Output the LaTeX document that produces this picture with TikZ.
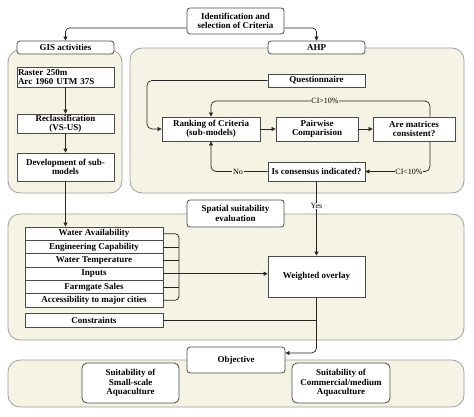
\documentclass[tikz,border=0pt]{standalone}
\usepackage{fontspec}
\setmainfont{Liberation Serif}
\usetikzlibrary{arrows.meta}
\definecolor{panel}{HTML}{F5F3E4}
\definecolor{edge}{HTML}{4A4A4A}
\begin{document}
\begin{tikzpicture}[x=1pt,y=-1pt,
  font=\bfseries\fontsize{9}{9.3}\selectfont,
  panelbox/.style={draw=gray!75, fill=panel, rounded corners=12pt, line width=0.8pt},
  head/.style={draw=edge, fill=white, rounded corners=3pt, line width=0.8pt, align=center, inner sep=0pt},
  box/.style={draw=edge, fill=white, line width=0.8pt, align=center, inner sep=0pt},
  conn/.style={draw=black!85, line width=0.7pt, -{Triangle[length=4pt,width=4pt]}},
  plain/.style={draw=black!85, line width=0.7pt},
  lbl/.style={font=\fontsize{8}{9}\selectfont, inner sep=0.8pt}]
\useasboundingbox[fill=white] (0,0) rectangle (474,417);

% panels
\path[panelbox] (8,50) rectangle (122,193);
\path[panelbox] (130,48) rectangle (464,193);
\path[panelbox] (8,214) rectangle (464,340);
\path[panelbox] (8,360) rectangle (464,407);

% header nodes
\node[head, minimum width=97pt, minimum height=26pt] (top) at (235.5,21) {Identification and\\selection of Criteria};
\node[head, minimum width=97pt, minimum height=13pt] (gis) at (65.5,47.5) {GIS activities};
\node[head, minimum width=97pt, minimum height=13pt] (ahp) at (316.5,47.5) {AHP};
\node[head, minimum width=97pt, minimum height=27pt] (spat) at (235.5,213.5) {Spatial suitability\\evaluation};
\node[head, minimum width=98pt, minimum height=26pt] (obj) at (236,360) {Objective};

% GIS column
\node[box, minimum width=97pt, minimum height=20pt, text width=95pt, align=left] (rast) at (65.5,77) {Raster 250m\\Arc 1960 UTM 37S};
\node[box, minimum width=97pt, minimum height=19pt] (recl) at (65.5,123.5) {Reclassification\\(VS-US)};
\node[box, minimum width=97pt, minimum height=28pt] (dev) at (65.5,167) {Development of sub-\\models};

% AHP
\node[box, minimum width=97pt, minimum height=13pt] (quest) at (316.5,80.5) {Questionnaire};
\node[box, minimum width=98pt, minimum height=24pt] (rank) at (211,129) {Ranking of Criteria\\(sub-models)};
\node[box, minimum width=82pt, minimum height=24pt] (pair) at (317,129) {Pairwise\\Comparision};
\node[box, minimum width=82pt, minimum height=24pt] (mat) at (414,129) {Are matrices\\consistent?};
\node[box, minimum width=97pt, minimum height=19pt] (cons) at (316.5,171.5) {Is consensus indicated?};

% criteria
\node[box, minimum width=138pt, minimum height=13.33pt] (r1) at (94,233.67) {Water Availability};
\node[box, minimum width=138pt, minimum height=13.33pt] (r2) at (94,247) {Engineering Capability};
\node[box, minimum width=138pt, minimum height=13.33pt] (r3) at (94,260.33) {Water Temperature};
\node[box, minimum width=138pt, minimum height=13.33pt] (r4) at (94,273.67) {Inputs};
\node[box, minimum width=138pt, minimum height=13.33pt] (r5) at (94,287) {Farmgate Sales};
\node[box, minimum width=138pt, minimum height=13.33pt] (r6) at (94,300.33) {Accessibility to major cities};
\node[box, minimum width=138pt, minimum height=14pt] (constr) at (94,320) {Constraints};
\node[box, minimum width=97pt, minimum height=41pt] (wo) at (316.5,276.5) {Weighted overlay};

% objective
\node[head, rounded corners=5pt, minimum width=97pt, minimum height=40pt] (small) at (130.5,383) {Suitability of\\Small-scale\\Aquaculture};
\node[head, rounded corners=5pt, minimum width=98pt, minimum height=40pt] (comm) at (341,383) {Suitability of\\Commercial/medium\\Aquaculture};

% connectors
\draw[conn, rounded corners=4pt] ([yshift=-7pt]top.west) -| (gis.north);
\draw[conn, rounded corners=4pt] ([yshift=-7pt]top.east) -| (ahp.north);
\draw[conn] (rast.south) -- (recl.north);
\draw[conn] (recl.south) -- (dev.north);
\draw[conn] (dev.south) -- (dev.south |- r1.north);

\draw[conn, rounded corners=5pt] (quest.west) -| (147,129) -- (rank.west);
\draw[conn] (rank.east) -- (pair.west);
\draw[conn] (pair.east) -- (mat.west);
\draw[conn, rounded corners=5pt] ([xshift=16pt]mat.north) |- (211,101) -- (rank.north);
\node[lbl, fill=panel] (ci1) at (325,101) {CI>10\%};
\draw[conn, rounded corners=5pt] ([xshift=16pt]mat.south) |- (cons.east);
\node[lbl, fill=panel] (ci2) at (409,171.5) {CI<10\%};
\draw[conn, rounded corners=5pt] (cons.west) -| (rank.south);
\node[lbl, fill=panel] (no) at (238,171.5) {No};
\draw[conn] (cons.south) -- (wo.north);
\node[lbl, fill=white] (yes) at (316.5,206) {Yes};

% bracket
\draw[plain, rounded corners=4pt] (r1.east) -- (179,233.67) -- (179,300.33) -- (r6.east);
\foreach \r in {r2,r3,r4,r5} \draw[plain] (\r.east) -- (\r.east -| 179,0);
\draw[conn] (179,273.67) -- (wo.west |- 0,273.67);
\draw[plain] (constr.east) -- (constr.east -| wo.south);
\draw[conn, rounded corners=5pt] (wo.south) |- ([yshift=7pt]obj.east);
\end{tikzpicture}
\end{document}
